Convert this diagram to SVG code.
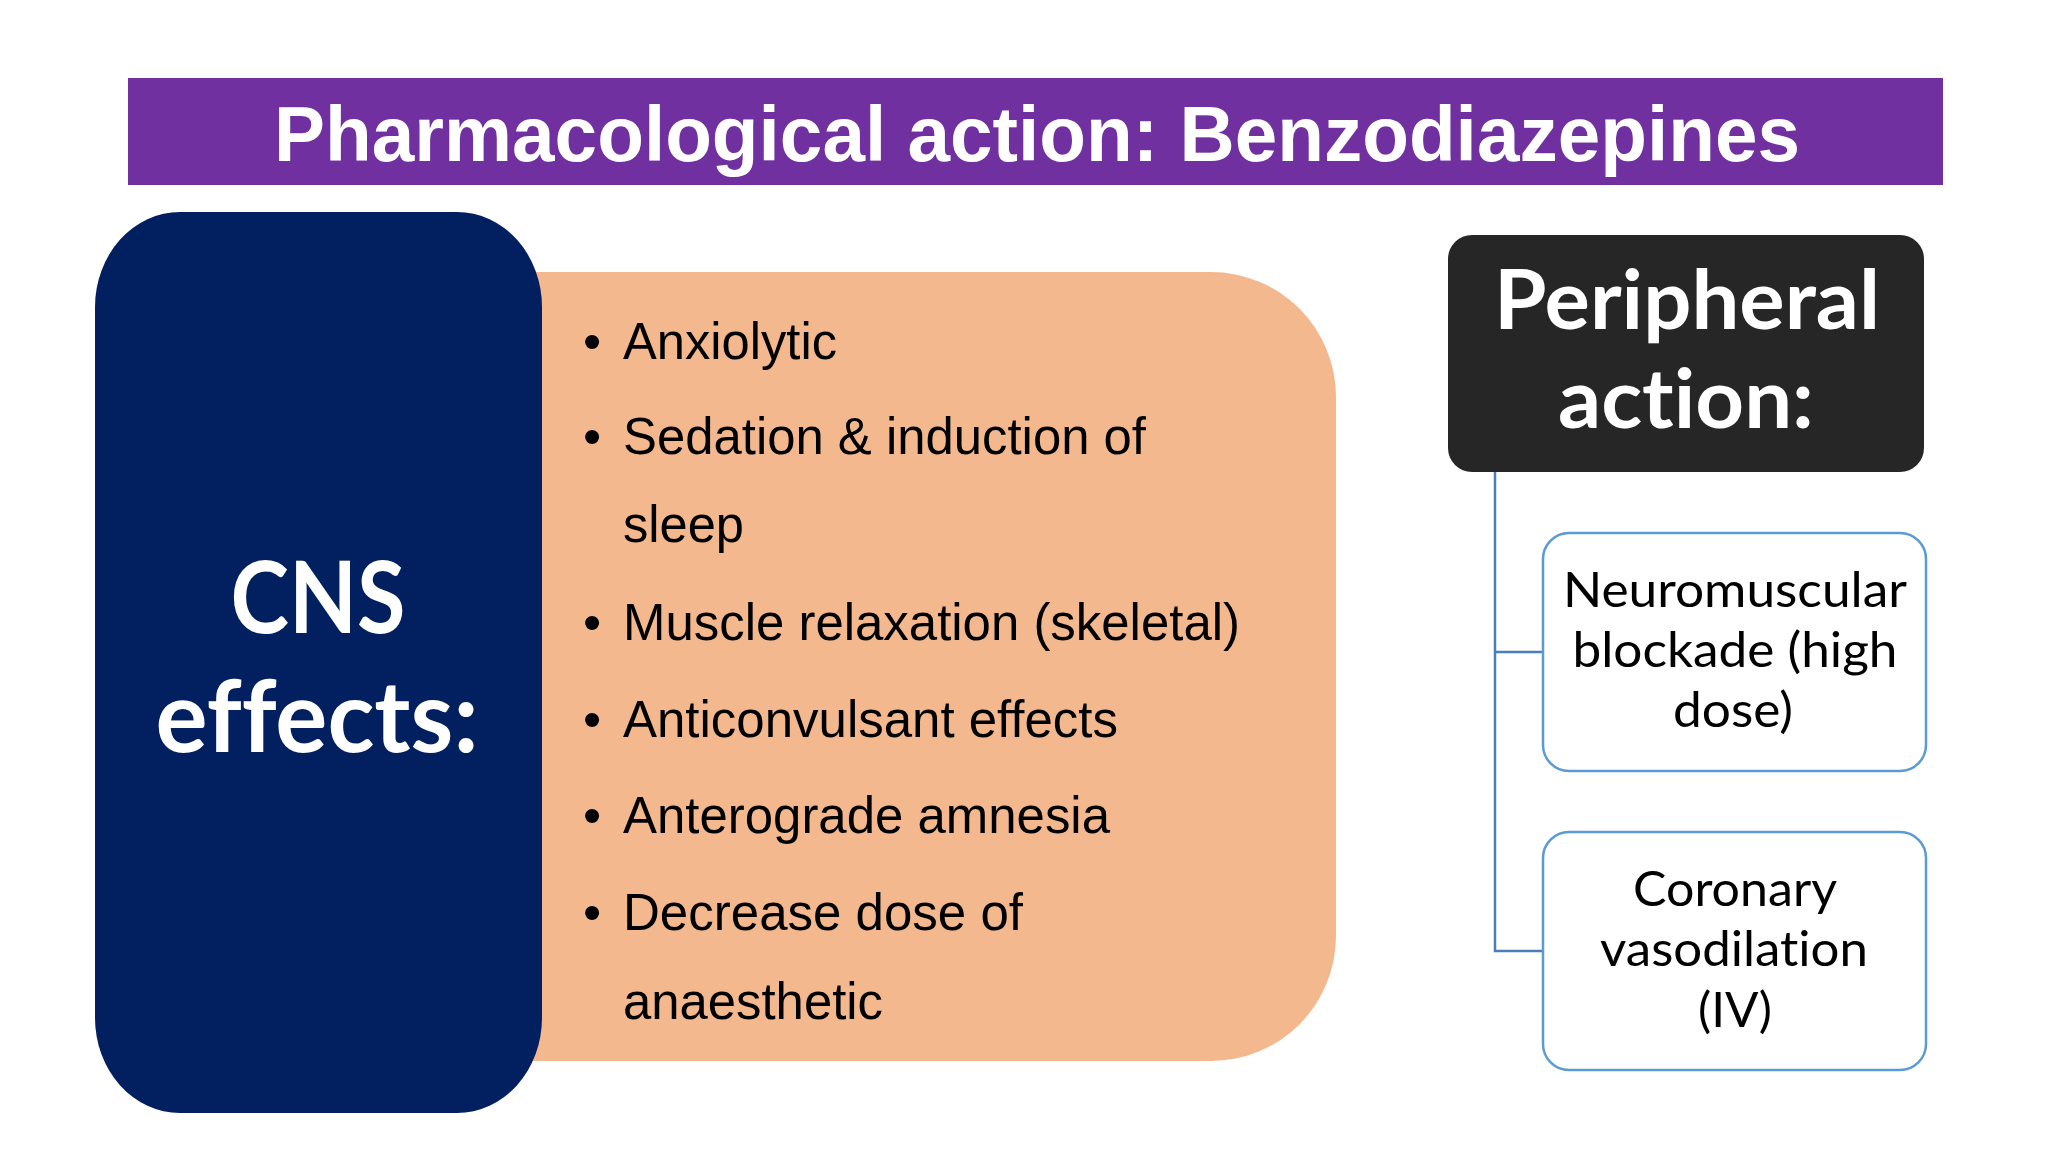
<svg xmlns="http://www.w3.org/2000/svg" width="2048" height="1152" viewBox="0 0 2048 1152">
  <style>
    .title { font-family: "Liberation Sans", Arial, sans-serif; font-weight: bold; font-size: 77px; fill: #FFFFFF; }
    .head { font-family: Lato, "Open Sans", sans-serif; font-weight: bold; fill: #FFFFFF; text-anchor: middle; font-variant-ligatures: none; }
    .bullet { font-family: "Liberation Sans", Arial, sans-serif; font-size: 52px; fill: #000000; }
    .leaf { font-family: Lato, "Open Sans", sans-serif; font-size: 49px; fill: #000000; text-anchor: middle; font-variant-ligatures: none; }
    .leafbox { fill: #FFFFFF; stroke: #5B9BD5; stroke-width: 2.5; }
    .conn { fill: none; stroke: #4A7EBB; stroke-width: 2.5; }
  </style>
  <rect width="2048" height="1152" fill="#FFFFFF"/>

  <g id="title">
    <rect x="128" y="78" width="1815" height="107" fill="#7030A0"/>
    <text class="title" x="274" y="161" textLength="1526" lengthAdjust="spacingAndGlyphs">Pharmacological action: Benzodiazepines</text>
  </g>

  <g id="cns-list">
    <path d="M 500 272 L 1211 272 A 125 125 0 0 1 1336 397 L 1336 936 A 125 125 0 0 1 1211 1061 L 500 1061 Z" fill="#F4B88F"/>
    <text class="bullet" x="583" y="359">•</text>
    <text class="bullet" x="623" y="359" textLength="214" lengthAdjust="spacingAndGlyphs">Anxiolytic</text>
    <text class="bullet" x="583" y="454">•</text>
    <text class="bullet" x="623" y="454" textLength="523" lengthAdjust="spacingAndGlyphs">Sedation &amp; induction of</text>
    <text class="bullet" x="623" y="542" textLength="121" lengthAdjust="spacingAndGlyphs">sleep</text>
    <text class="bullet" x="583" y="640">•</text>
    <text class="bullet" x="623" y="640" textLength="617" lengthAdjust="spacingAndGlyphs">Muscle relaxation (skeletal)</text>
    <text class="bullet" x="583" y="737">•</text>
    <text class="bullet" x="623" y="737" textLength="495" lengthAdjust="spacingAndGlyphs">Anticonvulsant effects</text>
    <text class="bullet" x="583" y="833">•</text>
    <text class="bullet" x="623" y="833" textLength="487" lengthAdjust="spacingAndGlyphs">Anterograde amnesia</text>
    <text class="bullet" x="583" y="930">•</text>
    <text class="bullet" x="623" y="930" textLength="400" lengthAdjust="spacingAndGlyphs">Decrease dose of</text>
    <text class="bullet" x="623" y="1019" textLength="260" lengthAdjust="spacingAndGlyphs">anaesthetic</text>
  </g>

  <g id="cns">
    <rect x="95" y="212" width="447" height="901" rx="85" ry="95" fill="#022060"/>
    <text class="head" x="318" y="633" font-size="99" textLength="175" lengthAdjust="spacingAndGlyphs">CNS</text>
    <text class="head" x="317" y="752" font-size="99" textLength="323" lengthAdjust="spacingAndGlyphs">effects:</text>
  </g>

  <g id="peripheral">
    <rect x="1448" y="235" width="476" height="237" rx="24" ry="24" fill="#262626"/>
    <text class="head" x="1687" y="329" font-size="83" textLength="386" lengthAdjust="spacingAndGlyphs">Peripheral</text>
    <text class="head" x="1686" y="428" font-size="83" textLength="256" lengthAdjust="spacingAndGlyphs">action:</text>
  </g>

  <g id="connectors">
    <path class="conn" d="M 1495 472 L 1495 951 L 1543 951"/>
    <path class="conn" d="M 1495 652 L 1543 652"/>
  </g>

  <g id="neuromuscular">
    <rect class="leafbox" x="1543" y="533" width="383" height="238" rx="26" ry="26"/>
    <text class="leaf" x="1735" y="607" textLength="344" lengthAdjust="spacingAndGlyphs">Neuromuscular</text>
    <text class="leaf" x="1735" y="667" textLength="325" lengthAdjust="spacingAndGlyphs">blockade (high</text>
    <text class="leaf" x="1733" y="727" textLength="120" lengthAdjust="spacingAndGlyphs">dose)</text>
  </g>

  <g id="coronary">
    <rect class="leafbox" x="1543" y="832" width="383" height="238" rx="26" ry="26"/>
    <text class="leaf" x="1735" y="906" textLength="204" lengthAdjust="spacingAndGlyphs">Coronary</text>
    <text class="leaf" x="1734" y="966" textLength="268" lengthAdjust="spacingAndGlyphs">vasodilation</text>
    <text class="leaf" x="1735" y="1027" textLength="74" lengthAdjust="spacingAndGlyphs">(IV)</text>
  </g>
</svg>
